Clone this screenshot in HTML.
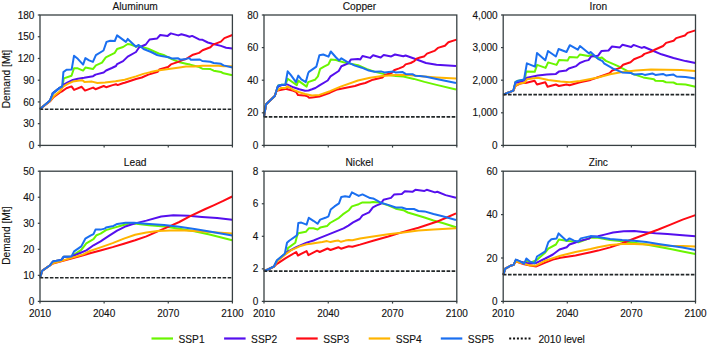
<!DOCTYPE html>
<html><head><meta charset="utf-8"><title>Metal demand by SSP</title>
<style>html,body{margin:0;padding:0;background:#fff;}body{width:709px;height:344px;overflow:hidden;}svg{display:block;}text{font-family:"Liberation Sans",sans-serif;fill:#111;stroke:#111;stroke-width:0.12px;}</style>
</head><body>
<svg width="709" height="344" viewBox="0 0 709 344">
<rect width="709" height="344" fill="#fff"/>
<g fill="none" stroke-width="2.0" stroke-linejoin="round" stroke-linecap="butt">
<polyline stroke="#6af500" points="40,108.9 49.8,100.8 52.1,95.4 52.7,93.4 59.6,87.9 62.5,86.3 63.8,78.4 71.5,75.8 74,68.3 77.8,68.3 83.1,70.6 85.4,67.6 92.9,69.1 95.9,65.3 102,62.6 105.8,57.3 110.3,55.1 114.8,52.8 117.1,49 123.1,47 127.7,44 130.7,44.5 136,46.7 138.7,46 148.1,48.6 158.7,53.5 163.6,55 172.3,59.4 179.6,62.3 186,63.7 190.1,64.6 198.2,66.7 202.3,68.7 210.4,69.1 213.7,70.7 221,72 223.5,73.3 232.4,75.2"/>
<polyline stroke="#550fee" points="40,108.9 49.8,100.8 52.1,95.4 52.7,93.4 59.6,87.9 62,86.5 63.2,84.8 67.7,82.3 72.8,80 77.9,78.7 84.1,77.8 93.1,76.2 95.5,74.6 103.7,72.5 106.1,70.5 111.8,68 116,66 117.1,64.1 123.1,61.1 127.7,56.6 136,52 139,47.5 145.8,44.5 149.6,39.5 157.2,38.4 160.2,35 167.7,35.9 170.8,33.4 178.3,35.4 181.4,34.2 186,35.5 189.5,36.8 192.1,35.9 199.1,39.4 202.6,39.8 207.8,42.5 212.2,43.8 220.9,45.9 226.1,47.7 232.4,48.6"/>
<polyline stroke="#ff0a14" points="40,108.9 49.8,101.5 53.2,97.5 60,92.4 62,91.4 66.4,88.3 71.5,86.4 74.1,89.9 81.7,86.8 85,90.6 93.1,87.6 95.5,89.2 103.7,86 106.1,87.2 112.6,85.1 116,84.2 117.6,85.1 122.7,83.2 124.7,82.7 136,79 141.8,77.5 148.4,74.6 157.8,71.7 159.3,69.5 168,67 170.9,64.4 178.2,61.9 182.5,60.1 186,59 193,54.7 199.1,52.9 202.6,50.3 210.4,47.3 213.1,44.6 220.9,41.6 224.4,38.1 232.4,35"/>
<polyline stroke="#ffb400" points="40,108.9 49.8,101.3 53.2,96.8 57,93.5 60,91.2 63.2,86.7 67.7,83.9 72.8,81.6 77.9,80.7 82.4,80.3 84.4,81.9 92,81.6 97.4,83 105,82.4 115.6,81.2 124.7,79.7 136,76.4 143.3,73.9 150.5,72.1 157.8,70.6 165.1,69.5 172.3,68.4 179.6,67.4 186,66.6 194.1,66.5 202.3,65.8 210.4,65.7 218.6,65.8 223.5,66.3 232.4,66.3"/>
<polyline stroke="#1a6ff0" points="40,108.9 49.8,100.8 52.1,95.4 52.7,93.4 59.6,87.9 62.2,86.5 63.4,72.1 66.5,69.8 71.7,69.4 74,55.8 77.8,58.8 83.1,64.6 85.4,58.1 89.1,60.4 92.9,61.9 95.9,55.1 103.5,50.5 106.5,41.9 110.3,40.7 114.8,41 117.1,35.4 125.9,41.9 127.7,38.9 136,46.7 138.7,44.9 143.6,49 151.1,52 157.1,55 161.4,56.1 168.7,57.2 172.3,58.6 178.2,58.3 180.3,59.7 186,58.9 189.3,58.1 190.9,59.7 199.8,59.5 202.3,61 210.4,61.8 213.7,63 221,63.8 223.5,65.4 232.4,67.5"/>
</g>
<line x1="39.7" y1="109.2" x2="232.4" y2="109.2" stroke="#222728" stroke-width="1.6" stroke-dasharray="3.6 1.48"/>
<rect x="40" y="15" width="192.40" height="130.40" fill="none" stroke="#384043" stroke-width="1.3"/>
<line x1="37.8" y1="145.40" x2="40" y2="145.40" stroke="#384043" stroke-width="1.2"/>
<text x="34.4" y="149.00" font-size="10" text-anchor="end">0</text>
<line x1="37.8" y1="123.67" x2="40" y2="123.67" stroke="#384043" stroke-width="1.2"/>
<text x="34.4" y="127.27" font-size="10" text-anchor="end">30</text>
<line x1="37.8" y1="101.93" x2="40" y2="101.93" stroke="#384043" stroke-width="1.2"/>
<text x="34.4" y="105.53" font-size="10" text-anchor="end">60</text>
<line x1="37.8" y1="80.20" x2="40" y2="80.20" stroke="#384043" stroke-width="1.2"/>
<text x="34.4" y="83.80" font-size="10" text-anchor="end">90</text>
<line x1="37.8" y1="58.47" x2="40" y2="58.47" stroke="#384043" stroke-width="1.2"/>
<text x="34.4" y="62.07" font-size="10" text-anchor="end">120</text>
<line x1="37.8" y1="36.73" x2="40" y2="36.73" stroke="#384043" stroke-width="1.2"/>
<text x="34.4" y="40.33" font-size="10" text-anchor="end">150</text>
<line x1="37.8" y1="15.00" x2="40" y2="15.00" stroke="#384043" stroke-width="1.2"/>
<text x="34.4" y="18.60" font-size="10" text-anchor="end">180</text>
<line x1="40.00" y1="145.4" x2="40.00" y2="147.6" stroke="#384043" stroke-width="1.2"/>
<line x1="104.13" y1="145.4" x2="104.13" y2="147.6" stroke="#384043" stroke-width="1.2"/>
<line x1="168.27" y1="145.4" x2="168.27" y2="147.6" stroke="#384043" stroke-width="1.2"/>
<line x1="232.40" y1="145.4" x2="232.40" y2="147.6" stroke="#384043" stroke-width="1.2"/>
<text x="135.20" y="9.80" font-size="10.2" text-anchor="middle">Aluminum</text>
<g fill="none" stroke-width="2.0" stroke-linejoin="round" stroke-linecap="butt">
<polyline stroke="#6af500" points="264,116.5 266.1,104.2 274.8,96 277.7,86.7 278.3,85.5 281.8,84.7 285.3,84.8 287.7,78.8 296.8,85.1 298.3,80.6 306.6,86.6 308.1,82.1 314.9,79.8 317.9,76.4 320.2,68.8 324,66.6 328.5,64.3 330.8,59.5 336.1,60.1 339.1,61 346.7,63.1 358,65.2 367.1,69.1 376.1,72.1 385.2,74.4 395.8,75.9 403.3,76.6 413.9,78.9 424.5,81.9 436.5,84.9 456,89.5"/>
<polyline stroke="#550fee" points="264,116.5 266.1,104.2 274.8,96 277.7,86.9 281.8,85 285.3,84.9 287,84.4 293.4,87.3 299.3,89.3 305.1,90.8 308.6,90.5 312,89.3 315.4,88 319.5,85.3 327.7,80.5 330.5,76.4 338.7,71 341.4,66.2 348.3,63.4 351,59.4 358,59 360.3,59.4 362.5,56 370.1,57.9 373.1,55.2 380.7,57.5 383.7,54.9 391.2,56.4 395,54.5 403.3,56.3 405.6,55.5 415.4,59 426,63 436.5,64.8 456,66"/>
<polyline stroke="#ff0a14" points="264,116.5 266.1,104.2 274.8,96 276.4,91.3 277.7,90.6 285.3,88.9 286.5,89 293.4,90.8 296.3,92.2 298.1,95.1 303.9,95.4 307.4,96.3 309.1,97.7 312,97.4 319.4,96.5 330,92.7 337.4,89.4 346.1,87.7 354.9,86 360.1,84.2 365.3,83 372.9,79.7 382.4,77.5 384.5,75.3 391.8,72.8 394,70.3 399.1,68.4 403.4,66.6 405.6,64.4 410.7,63 414.3,61.2 416.5,58.6 420,57.5 424,56.6 427,53.6 434.4,50.9 437.9,47.9 444.9,45.7 448.4,42.2 456.5,39.6"/>
<polyline stroke="#ffb400" points="264,116.5 266.1,104.2 274.8,96 276.4,91 277.7,90.2 280.7,88.1 285.3,88.1 287.6,86.4 293.4,89.9 299.3,92.2 305.1,94 312,95.4 319.4,94.9 330,91.2 340.6,86.6 358,80.5 370.1,77.8 382.2,75.9 395.8,75.1 407.8,75.1 421.4,76.3 436.5,77.4 456,78.4"/>
<polyline stroke="#1a6ff0" points="264,116.5 266.1,104.2 274.8,96 277.7,86.7 278.3,85.5 281.8,84.7 285.3,84.6 287.7,71.3 290.7,74.9 296,82.1 298.3,75.6 301.3,79.4 305.8,82.1 308.1,73.4 308.9,71.9 316.4,66.6 319.4,55.2 323.2,54.5 328.5,56.7 330.8,51.5 336.1,57.5 339.1,60.5 341.4,58.3 347.9,62.4 354.9,65.6 361.8,67.7 368.8,70.6 374.4,71.7 380.9,71.4 384.5,72.4 393.3,71.4 395.4,72.4 402.7,72.1 405.6,73.9 412.9,74.3 415.1,75.7 420,76.1 426,76.8 436.5,78.9 456,83"/>
</g>
<line x1="263.7" y1="116.9" x2="456.8" y2="116.9" stroke="#222728" stroke-width="1.6" stroke-dasharray="3.6 1.48"/>
<rect x="264" y="15" width="192.80" height="130.40" fill="none" stroke="#384043" stroke-width="1.3"/>
<line x1="261.8" y1="145.40" x2="264" y2="145.40" stroke="#384043" stroke-width="1.2"/>
<text x="258.4" y="149.00" font-size="10" text-anchor="end">0</text>
<line x1="261.8" y1="112.80" x2="264" y2="112.80" stroke="#384043" stroke-width="1.2"/>
<text x="258.4" y="116.40" font-size="10" text-anchor="end">20</text>
<line x1="261.8" y1="80.20" x2="264" y2="80.20" stroke="#384043" stroke-width="1.2"/>
<text x="258.4" y="83.80" font-size="10" text-anchor="end">40</text>
<line x1="261.8" y1="47.60" x2="264" y2="47.60" stroke="#384043" stroke-width="1.2"/>
<text x="258.4" y="51.20" font-size="10" text-anchor="end">60</text>
<line x1="261.8" y1="15.00" x2="264" y2="15.00" stroke="#384043" stroke-width="1.2"/>
<text x="258.4" y="18.60" font-size="10" text-anchor="end">80</text>
<line x1="264.00" y1="145.4" x2="264.00" y2="147.6" stroke="#384043" stroke-width="1.2"/>
<line x1="328.27" y1="145.4" x2="328.27" y2="147.6" stroke="#384043" stroke-width="1.2"/>
<line x1="392.53" y1="145.4" x2="392.53" y2="147.6" stroke="#384043" stroke-width="1.2"/>
<line x1="456.80" y1="145.4" x2="456.80" y2="147.6" stroke="#384043" stroke-width="1.2"/>
<text x="359.40" y="9.80" font-size="10.2" text-anchor="middle">Copper</text>
<g fill="none" stroke-width="2.0" stroke-linejoin="round" stroke-linecap="butt">
<polyline stroke="#6af500" points="503.3,94.6 513.4,90.6 515.6,81.8 517.2,81.1 524.9,79.4 526.1,71.6 534.7,71.8 537.1,64.9 545.6,67.9 548.1,62.4 556.6,64.9 559.1,60 567.6,60.6 569.5,56.9 577.4,57.5 579.8,54.5 588.5,56.1 591.1,54.8 596.3,57.4 600.7,57.9 601.6,57.4 605.9,60.9 611.2,63.1 618.1,66.2 623.4,68.8 632.7,73.9 643.3,77.4 653.9,79.2 655.4,80.7 663,81 666,82.2 673.5,82.5 676.5,84 685.6,84.5 695.4,86.7"/>
<polyline stroke="#550fee" points="503.3,94.6 513.4,90.6 515.6,82.3 518,82.6 524.7,80.3 527,77.7 537.8,75.6 546.8,74.6 555.9,73.9 558.9,71.6 566.4,70.4 568.8,68.5 576.2,66.1 579.8,63 585,60.9 588.5,60.1 591.1,56.6 598.1,55.7 601.6,50.9 608.5,50.5 612,46.5 619.9,47.4 622.5,44.8 631.2,47 633.5,44.9 641.8,47.9 644.1,47 652.4,50.5 661.4,54.3 673.5,58 685.6,61.1 695.4,63"/>
<polyline stroke="#ff0a14" points="503.3,94.6 513.4,90.6 515.6,85.8 520.2,83.6 524.7,82.8 525.5,83 534.6,80.7 537,84.5 545.3,82.2 547.6,86.7 555.9,84.5 558.9,86 566.5,84.5 569.5,85.2 580,82.2 590.6,79.9 598,77.3 601,76.2 609.6,73.1 612.2,70.5 620.1,67.9 623.1,64.8 630.5,62.2 634,59.2 641.8,56.1 644.5,53.9 652.3,51.3 654.1,50 663.1,46 666.1,42.9 673.6,40.7 676.2,38.1 684.9,35.5 687.5,32.9 695.4,30.4"/>
<polyline stroke="#ffb400" points="503.3,94.6 513.4,90.6 515.6,85.6 520.2,83.4 524.7,82.6 527,79.2 537.8,77.7 548.3,79.9 560.4,81.4 569.5,82.2 580,81 590.6,78.9 598,77.5 610.1,74.3 622.2,71.9 635.8,70.4 650.9,69.5 666,69.8 681.1,70.1 695.4,70.9"/>
<polyline stroke="#1a6ff0" points="503.3,94.6 513.4,90.6 515.6,81.8 517.2,81.1 524,79.6 526.9,63.3 535,66.7 537,53.1 545.3,60.3 548,51 555.9,56.5 558.6,49 566.5,52 569.8,45.2 577.8,49.7 580,46 589.1,53.5 590.6,52 598,58.8 602.5,61.1 604,63.3 613.1,68.6 622.2,72.4 631.2,73.1 634.3,74.6 641.8,73.9 644.8,74.9 652.4,73.4 655.4,74.9 663,73.9 666,75.4 673.5,74.6 676.5,76.5 685.6,76.9 695.4,78.4"/>
</g>
<line x1="502.9" y1="94.6" x2="695.5" y2="94.6" stroke="#222728" stroke-width="1.6" stroke-dasharray="3.6 1.48"/>
<rect x="503.2" y="15" width="192.30" height="130.40" fill="none" stroke="#384043" stroke-width="1.3"/>
<line x1="501.0" y1="145.40" x2="503.2" y2="145.40" stroke="#384043" stroke-width="1.2"/>
<text x="497.59999999999997" y="149.00" font-size="10" text-anchor="end">0</text>
<line x1="501.0" y1="112.80" x2="503.2" y2="112.80" stroke="#384043" stroke-width="1.2"/>
<text x="497.59999999999997" y="116.40" font-size="10" text-anchor="end">1,000</text>
<line x1="501.0" y1="80.20" x2="503.2" y2="80.20" stroke="#384043" stroke-width="1.2"/>
<text x="497.59999999999997" y="83.80" font-size="10" text-anchor="end">2,000</text>
<line x1="501.0" y1="47.60" x2="503.2" y2="47.60" stroke="#384043" stroke-width="1.2"/>
<text x="497.59999999999997" y="51.20" font-size="10" text-anchor="end">3,000</text>
<line x1="501.0" y1="15.00" x2="503.2" y2="15.00" stroke="#384043" stroke-width="1.2"/>
<text x="497.59999999999997" y="18.60" font-size="10" text-anchor="end">4,000</text>
<line x1="503.20" y1="145.4" x2="503.20" y2="147.6" stroke="#384043" stroke-width="1.2"/>
<line x1="567.30" y1="145.4" x2="567.30" y2="147.6" stroke="#384043" stroke-width="1.2"/>
<line x1="631.40" y1="145.4" x2="631.40" y2="147.6" stroke="#384043" stroke-width="1.2"/>
<line x1="695.50" y1="145.4" x2="695.50" y2="147.6" stroke="#384043" stroke-width="1.2"/>
<text x="598.35" y="9.80" font-size="10.2" text-anchor="middle">Iron</text>
<g fill="none" stroke-width="2.0" stroke-linejoin="round" stroke-linecap="butt">
<polyline stroke="#6af500" points="40.3,277.3 42.2,270.8 50.1,265.2 52.9,261.5 61.2,260.1 63.6,256.8 71.5,256.4 74.1,254.5 81.3,249.9 86.3,243.3 93.5,239.2 96.5,235.2 100.6,233.6 106,230.1 113.5,227.9 122.6,225.2 128,223.8 134,223.6 149.1,225.2 164.2,226.6 179.3,228.7 194.4,231.2 209.5,234.6 232.2,240.2"/>
<polyline stroke="#550fee" points="40.3,277.3 42.2,270.8 50.1,265.2 52.9,261.5 61.2,260.1 63.6,256.8 71.5,256.4 74.1,255.5 81.3,252.5 86.3,250.4 93.5,245.3 100.6,241.3 104.7,238.6 108.1,236.4 117.1,230.7 126.1,226.2 135.1,223.4 146.4,220.6 161.2,216.5 173.3,215.2 188.4,215.7 202,216.9 217.1,217.9 232.2,219.8"/>
<polyline stroke="#ff0a14" points="40.3,277.3 42.2,270.8 50.1,265.2 52.9,263.6 61.2,261.3 65.9,260 83.3,255.2 90,253.3 101.3,250.2 112.6,247.1 123.9,243.7 135.1,240.3 146.4,236.4 157.7,231.3 170,226.2 179.3,222 190.2,216.2 205.4,209 213.6,205.4 222.7,201.2 232.2,196.5"/>
<polyline stroke="#ffb400" points="40.3,277.3 42.2,270.8 50.1,265.2 52.9,263.3 61.2,261 65.9,259.6 83.3,254.4 90,251 101.3,247.1 112.6,243.1 123.9,238.6 135.1,234.7 146.4,232.4 157.7,231.1 170,230.4 179.3,230.3 194.4,231 209.5,232 232.2,233.6"/>
<polyline stroke="#1a6ff0" points="40.3,277.3 42.2,270.8 50.1,265.2 52.9,261.5 61.2,260.1 63.6,256.8 71.5,256.4 74.1,251.4 81.3,246.4 85.3,238.7 90.4,235.7 93.5,234.2 95.5,229.6 100.6,229.6 104.7,228.6 106,227.6 113.5,225.9 117.3,223.9 125.6,222.8 134,222.7 149.1,224 164.2,225 179.3,226.8 194.4,228.9 209.5,231.6 232.2,235.4"/>
</g>
<line x1="39.7" y1="277.8" x2="232.4" y2="277.8" stroke="#222728" stroke-width="1.6" stroke-dasharray="3.6 1.48"/>
<rect x="40" y="171.2" width="192.40" height="130.20" fill="none" stroke="#384043" stroke-width="1.3"/>
<line x1="37.8" y1="301.40" x2="40" y2="301.40" stroke="#384043" stroke-width="1.2"/>
<text x="34.4" y="305.00" font-size="10" text-anchor="end">0</text>
<line x1="37.8" y1="275.36" x2="40" y2="275.36" stroke="#384043" stroke-width="1.2"/>
<text x="34.4" y="278.96" font-size="10" text-anchor="end">10</text>
<line x1="37.8" y1="249.32" x2="40" y2="249.32" stroke="#384043" stroke-width="1.2"/>
<text x="34.4" y="252.92" font-size="10" text-anchor="end">20</text>
<line x1="37.8" y1="223.28" x2="40" y2="223.28" stroke="#384043" stroke-width="1.2"/>
<text x="34.4" y="226.88" font-size="10" text-anchor="end">30</text>
<line x1="37.8" y1="197.24" x2="40" y2="197.24" stroke="#384043" stroke-width="1.2"/>
<text x="34.4" y="200.84" font-size="10" text-anchor="end">40</text>
<line x1="37.8" y1="171.20" x2="40" y2="171.20" stroke="#384043" stroke-width="1.2"/>
<text x="34.4" y="174.80" font-size="10" text-anchor="end">50</text>
<line x1="40.00" y1="301.4" x2="40.00" y2="303.59999999999997" stroke="#384043" stroke-width="1.2"/>
<text x="40.00" y="316.60" font-size="10" text-anchor="middle">2010</text>
<line x1="104.13" y1="301.4" x2="104.13" y2="303.59999999999997" stroke="#384043" stroke-width="1.2"/>
<text x="104.13" y="316.60" font-size="10" text-anchor="middle">2040</text>
<line x1="168.27" y1="301.4" x2="168.27" y2="303.59999999999997" stroke="#384043" stroke-width="1.2"/>
<text x="168.27" y="316.60" font-size="10" text-anchor="middle">2070</text>
<line x1="232.40" y1="301.4" x2="232.40" y2="303.59999999999997" stroke="#384043" stroke-width="1.2"/>
<text x="232.40" y="316.60" font-size="10" text-anchor="middle">2100</text>
<text x="135.20" y="166.00" font-size="10.2" text-anchor="middle">Lead</text>
<g fill="none" stroke-width="2.0" stroke-linejoin="round" stroke-linecap="butt">
<polyline stroke="#6af500" points="264,271 268,269.5 274.1,266.3 277,260.5 284.8,254 287.4,251.6 287.9,248.1 295.3,242.8 297,236 298.3,233.3 305.8,231.8 308.8,228.3 313.4,228.3 317.6,229.5 320.2,227.6 327,226.1 330,223 339,217.8 342.8,214.4 348.9,210.2 351.9,206.4 358.7,204.2 362.5,202.4 370.1,202.4 373.1,201.9 380.7,202.7 388.2,205.4 395.8,208.7 403.3,210.2 407.8,212.5 415.4,214.7 424.5,217.5 433.5,220.5 442.6,223 456,227.2"/>
<polyline stroke="#550fee" points="264,271 268,269.5 274.1,266.3 277,260.8 284.8,254.3 287.4,252 296.2,247.2 306.6,242.6 313.6,240.5 317.4,238.9 326.2,235.4 334.9,231.9 343.6,228.4 348.4,225.6 353.1,222.4 359.7,219 362.5,215.4 369.1,212.4 372.9,207.3 376.7,205.4 380.7,203.9 383.5,199.7 391,197.9 394,194.6 401.8,193.9 404.8,191.3 412.4,191.8 415.4,189.8 424.5,190.9 426.7,189.8 435,192.4 437.3,191.8 445.6,195.1 456,197.8"/>
<polyline stroke="#ff0a14" points="264,271 268,269.5 274.1,266.5 277,263.8 285.7,258.1 296.2,252 297.9,255.5 306.6,251.1 308.4,255.1 317.1,250.7 319.7,252 327.5,248.5 330.5,250 338.4,247.2 341,248.7 348.8,246.3 352.3,246.7 360,244.6 373.1,240.7 388.2,236.5 403.3,231.9 418.4,227.8 426,225.3 436.5,221.8 445.6,218 456,213.3"/>
<polyline stroke="#ffb400" points="264,271 268,269.5 274.1,266.5 277,261.5 284.7,255 291.8,249.8 299.6,246.3 306.6,244.2 311,243.7 317.1,242.7 322.3,242 327,241.1 330.5,242.1 334.9,241.1 338.4,240.6 341,241.8 345.3,240.6 348.8,240 352.3,240.2 360,238.6 373.1,236.5 388.2,234.3 403.3,232.4 418.4,230.6 433.5,229.4 456,228.3"/>
<polyline stroke="#1a6ff0" points="264,271 268,269.5 274.1,266.3 277,260.3 284.8,253.7 287,242.8 289.2,240.7 296.2,235.9 297,234.8 298.3,223 301.3,222.6 306.6,224.6 308.8,217.8 313.4,220.8 317.6,223.8 320.2,219.6 325.4,217.8 328.5,216.3 330.7,209.5 334.5,206.4 339,203.4 341.3,196.9 345.1,196.3 349.6,196.9 351.9,192.4 358.7,195.9 362.5,194.4 370.1,198.1 373.1,198.4 380.7,202.7 388.2,204.9 395.8,207.5 401.8,207.5 406.3,209 413.9,209 418.4,211 424.5,211.4 433.5,214 442.6,216.3 456,220"/>
</g>
<line x1="263.7" y1="271.1" x2="456.8" y2="271.1" stroke="#222728" stroke-width="1.6" stroke-dasharray="3.6 1.48"/>
<rect x="264" y="171.2" width="192.80" height="130.20" fill="none" stroke="#384043" stroke-width="1.3"/>
<line x1="261.8" y1="301.40" x2="264" y2="301.40" stroke="#384043" stroke-width="1.2"/>
<text x="258.4" y="305.00" font-size="10" text-anchor="end">0</text>
<line x1="261.8" y1="268.85" x2="264" y2="268.85" stroke="#384043" stroke-width="1.2"/>
<text x="258.4" y="272.45" font-size="10" text-anchor="end">2</text>
<line x1="261.8" y1="236.30" x2="264" y2="236.30" stroke="#384043" stroke-width="1.2"/>
<text x="258.4" y="239.90" font-size="10" text-anchor="end">4</text>
<line x1="261.8" y1="203.75" x2="264" y2="203.75" stroke="#384043" stroke-width="1.2"/>
<text x="258.4" y="207.35" font-size="10" text-anchor="end">6</text>
<line x1="261.8" y1="171.20" x2="264" y2="171.20" stroke="#384043" stroke-width="1.2"/>
<text x="258.4" y="174.80" font-size="10" text-anchor="end">8</text>
<line x1="264.00" y1="301.4" x2="264.00" y2="303.59999999999997" stroke="#384043" stroke-width="1.2"/>
<text x="264.00" y="316.60" font-size="10" text-anchor="middle">2010</text>
<line x1="328.27" y1="301.4" x2="328.27" y2="303.59999999999997" stroke="#384043" stroke-width="1.2"/>
<text x="328.27" y="316.60" font-size="10" text-anchor="middle">2040</text>
<line x1="392.53" y1="301.4" x2="392.53" y2="303.59999999999997" stroke="#384043" stroke-width="1.2"/>
<text x="392.53" y="316.60" font-size="10" text-anchor="middle">2070</text>
<line x1="456.80" y1="301.4" x2="456.80" y2="303.59999999999997" stroke="#384043" stroke-width="1.2"/>
<text x="456.80" y="316.60" font-size="10" text-anchor="middle">2100</text>
<text x="359.40" y="166.00" font-size="10.2" text-anchor="middle">Nickel</text>
<g fill="none" stroke-width="2.0" stroke-linejoin="round" stroke-linecap="butt">
<polyline stroke="#6af500" points="503.3,274.7 505.3,268.7 510.6,265.7 513.6,264.9 515.9,259.8 519.6,261.5 524.2,262.7 526.4,260.6 530.5,262.6 537,259.8 545.3,252.5 548.3,248.6 555.9,244.5 558.9,239.5 566.5,240.7 578.5,242.2 590.6,237.7 598,237.8 610.1,240 622.2,241.2 634.3,242.7 646.3,244.4 658.4,246.8 670.5,249.1 682.6,251.4 695.4,254"/>
<polyline stroke="#550fee" points="503.3,274.7 505.3,268.7 510.6,265.7 513.6,264.9 515.9,259.8 519.6,261.5 524.2,262.7 530.2,263.4 536.3,262.9 545.3,258.5 552.9,254.5 559.5,249.5 566.7,247.2 569.4,244.5 574.8,242.7 578.4,241.3 589.2,238.6 591,236.8 598,236.2 605.6,234.4 613.1,232.5 623.7,231.3 634.3,231 643.3,232 655.4,233.2 667.5,234 679.6,235 695.4,236.3"/>
<polyline stroke="#ff0a14" points="503.3,274.7 505.3,268.7 510.6,265.7 513.6,264.9 515.9,261.3 519.6,262.7 524.2,264.2 530.2,265.4 536.3,266.4 545.3,262.7 552.9,259.6 560.4,257.8 575.5,255.4 590.6,252.2 598,250.6 610.1,247.4 622.2,243.2 634.3,238.5 646.3,234 658.4,229.5 670.5,224.6 682.6,219.6 695.4,215.1"/>
<polyline stroke="#ffb400" points="503.3,274.7 505.3,268.7 510.6,265.7 513.6,264.9 515.9,261.3 519.6,262.5 524.2,263.6 530.2,265.6 536.3,265.4 545.3,260.7 552.9,258.1 560.4,255.8 575.5,252 590.6,249 598,247.3 610.1,245 622.2,243.9 634.3,244 646.3,244.6 658.4,245.3 670.5,246 682.6,246.1 695.4,246.5"/>
<polyline stroke="#1a6ff0" points="503.3,274.7 505.3,268.7 510.6,265.7 513.6,264.9 515.9,259.6 519.6,261.1 524.2,263.8 526.4,258.5 530.2,261.8 534.7,263.3 537,256.5 545.3,251.3 548.3,242.2 551.4,239.2 556.6,238.4 558.6,233.4 566.5,240.7 569.5,238.4 574,240.7 578.5,241.4 580.8,238.4 590.6,236.1 598,237 610.1,239 622.2,240 634.3,240.7 646.3,242 658.4,244 670.5,245.8 682.6,247.5 695.4,249.9"/>
</g>
<line x1="502.9" y1="274.6" x2="695.5" y2="274.6" stroke="#222728" stroke-width="1.6" stroke-dasharray="3.6 1.48"/>
<rect x="503.2" y="171.2" width="192.30" height="130.20" fill="none" stroke="#384043" stroke-width="1.3"/>
<line x1="501.0" y1="301.40" x2="503.2" y2="301.40" stroke="#384043" stroke-width="1.2"/>
<text x="497.59999999999997" y="305.00" font-size="10" text-anchor="end">0</text>
<line x1="501.0" y1="258.00" x2="503.2" y2="258.00" stroke="#384043" stroke-width="1.2"/>
<text x="497.59999999999997" y="261.60" font-size="10" text-anchor="end">20</text>
<line x1="501.0" y1="214.60" x2="503.2" y2="214.60" stroke="#384043" stroke-width="1.2"/>
<text x="497.59999999999997" y="218.20" font-size="10" text-anchor="end">40</text>
<line x1="501.0" y1="171.20" x2="503.2" y2="171.20" stroke="#384043" stroke-width="1.2"/>
<text x="497.59999999999997" y="174.80" font-size="10" text-anchor="end">60</text>
<line x1="503.20" y1="301.4" x2="503.20" y2="303.59999999999997" stroke="#384043" stroke-width="1.2"/>
<text x="503.20" y="316.60" font-size="10" text-anchor="middle">2010</text>
<line x1="567.30" y1="301.4" x2="567.30" y2="303.59999999999997" stroke="#384043" stroke-width="1.2"/>
<text x="567.30" y="316.60" font-size="10" text-anchor="middle">2040</text>
<line x1="631.40" y1="301.4" x2="631.40" y2="303.59999999999997" stroke="#384043" stroke-width="1.2"/>
<text x="631.40" y="316.60" font-size="10" text-anchor="middle">2070</text>
<line x1="695.50" y1="301.4" x2="695.50" y2="303.59999999999997" stroke="#384043" stroke-width="1.2"/>
<text x="695.50" y="316.60" font-size="10" text-anchor="middle">2100</text>
<text x="598.35" y="166.00" font-size="10.2" text-anchor="middle">Zinc</text>
<text transform="translate(9.9,79.1) rotate(-90)" font-size="10.2" text-anchor="middle">Demand [Mt]</text>
<text transform="translate(9.9,235.7) rotate(-90)" font-size="10.2" text-anchor="middle">Demand [Mt]</text>
<line x1="151.5" y1="338.5" x2="173.0" y2="338.5" stroke="#6af500" stroke-width="2.2"/>
<text x="178.5" y="342.5" font-size="10.2">SSP1</text>
<line x1="224.1" y1="338.5" x2="245.6" y2="338.5" stroke="#550fee" stroke-width="2.2"/>
<text x="251.1" y="342.5" font-size="10.2">SSP2</text>
<line x1="296.2" y1="338.5" x2="317.7" y2="338.5" stroke="#ff0a14" stroke-width="2.2"/>
<text x="323.2" y="342.5" font-size="10.2">SSP3</text>
<line x1="368.7" y1="338.5" x2="390.2" y2="338.5" stroke="#ffb400" stroke-width="2.2"/>
<text x="395.7" y="342.5" font-size="10.2">SSP4</text>
<line x1="440.8" y1="338.5" x2="462.3" y2="338.5" stroke="#1a6ff0" stroke-width="2.2"/>
<text x="467.8" y="342.5" font-size="10.2">SSP5</text>
<line x1="509.2" y1="338.5" x2="531" y2="338.5" stroke="#111" stroke-width="2" stroke-dasharray="2 1.86"/>
<text x="538.4" y="342.5" font-size="10.2">2010 level</text>
</svg>
</body></html>
